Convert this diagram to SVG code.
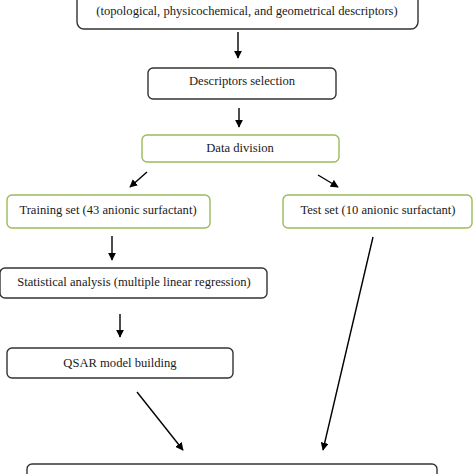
<svg xmlns="http://www.w3.org/2000/svg" width="474" height="474" viewBox="0 0 474 474">
<defs>
<marker id="ah" viewBox="0 0 10 10" refX="9" refY="5" markerWidth="8" markerHeight="8" markerUnits="userSpaceOnUse" orient="auto">
<path d="M0,0 L10,5 L0,10 z" fill="#000"/>
</marker>
<style>
.k{fill:#fff;stroke:#333;stroke-width:1.4}
.g{fill:#fff;stroke:#9bbb59;stroke-width:1.4}
text{font-family:"Liberation Serif","Times New Roman",serif;font-size:12.6px;fill:#1a1a1a;text-anchor:middle}
.c{stroke:#000;stroke-width:1.4;fill:none;marker-end:url(#ah)}
</style>
</defs>
<rect width="474" height="474" fill="#fff"/>
<g id="n1"><rect class="k" x="77" y="-20" width="341" height="49" rx="7"/><text x="247" y="15">(topological, physicochemical, and geometrical descriptors)</text></g>
<g id="n2"><rect class="k" x="148" y="68" width="188" height="31" rx="5"/><text x="242" y="85">Descriptors selection</text></g>
<g id="n3"><rect class="g" x="142" y="135" width="197" height="27" rx="5"/><text x="240" y="152">Data division</text></g>
<g id="n4"><rect class="g" x="7" y="195" width="203" height="33" rx="5"/><text x="108" y="214">Training set (43 anionic surfactant)</text></g>
<g id="n5"><rect class="g" x="283" y="195" width="189" height="33" rx="5"/><text x="378" y="214">Test set (10 anionic surfactant)</text></g>
<g id="n6"><rect class="k" x="0" y="268" width="267" height="30" rx="5"/><text x="134" y="286">Statistical analysis (multiple linear regression)</text></g>
<g id="n7"><rect class="k" x="7" y="348" width="226" height="30" rx="5"/><text x="120" y="367">QSAR model building</text></g>
<g id="n8"><rect class="k" x="27" y="464" width="410" height="30" rx="5"/></g>
<g id="connectors">
<line class="c" x1="238" y1="32" x2="238" y2="58"/>
<line class="c" x1="239" y1="108" x2="239" y2="127"/>
<line class="c" x1="147" y1="172" x2="130" y2="187"/>
<line class="c" x1="318" y1="175" x2="338" y2="187"/>
<line class="c" x1="112" y1="236" x2="112" y2="260"/>
<line class="c" x1="120" y1="314" x2="120" y2="337"/>
<line class="c" x1="137" y1="392" x2="183" y2="450"/>
<line class="c" x1="373" y1="237" x2="323" y2="450"/>
</g>
</svg>
